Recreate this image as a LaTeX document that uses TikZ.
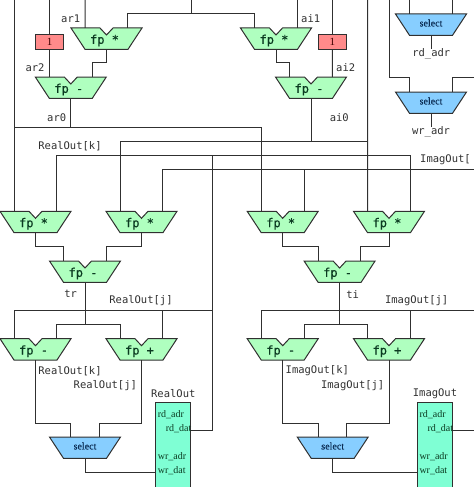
\documentclass[tikz,border=0pt]{standalone}
\usepackage{fontspec}
\setmainfont{Liberation Serif}
\newfontfamily\labelmono{DejaVu Sans Mono}
\newfontfamily\unitmono[FakeBold=0.4]{DejaVu Sans Mono}
\newfontfamily\selectserif[FakeBold=0.2]{Liberation Serif}
\usetikzlibrary{positioning, calc}
\definecolor{Wire}{HTML}{303030}
\definecolor{FpGreen}{HTML}{AFFFBF}
\definecolor{SelectBlue}{HTML}{87CEFF}
\definecolor{ConstRed}{HTML}{FF8A8A}
\definecolor{MemGreen}{HTML}{7FFFD4}
\definecolor{DarkGreen}{HTML}{0A3A20}
\definecolor{DarkBlue}{HTML}{0C2E55}
\tikzset{
  wire/.style={draw=Wire, line width=1pt},
  netlabel/.style={font=\labelmono\fontsize{10.5}{12}\selectfont, text=Wire, inner sep=0pt},
  memlabel/.style={font=\fontsize{10}{12}\selectfont, text=DarkGreen, inner sep=0pt, anchor=west},
  constbox/.style={wire, fill=ConstRed, minimum width=28.7pt, minimum height=14.8pt, inner sep=0pt,
                   font=\fontsize{11}{12}\selectfont, text=black!75!red},
  membox/.style={wire, fill=MemGreen, minimum width=35.3pt, minimum height=120pt, inner sep=0pt},
  fpunit/.pic={
    \draw[wire, fill=FpGreen] (-35.5,0) -- (-6.5,0) -- (0,7) -- (6.5,0) -- (35.5,0)
        -- (21.5,21.3) -- (-21.5,21.3) -- cycle;
    \node[inner sep=0pt, text=DarkGreen, font=\unitmono\fontsize{12}{12}\selectfont] (-t) at (-2,12.5) {#1};
    \coordinate (-l) at (-21.3,0);
    \coordinate (-r) at (21.3,0);
    \coordinate (-o) at (0,21.3);
  },
  selectunit/.pic={
    \draw[wire, fill=SelectBlue] (-35.5,0) -- (35.5,0) -- (21.5,21.3) -- (-21.5,21.3) -- cycle;
    \node[inner sep=0pt, text=DarkBlue, font=\selectserif\fontsize{10}{12}\selectfont] (-t) at (0,9) {select};
    \coordinate (-l) at (-21.3,0);
    \coordinate (-r) at (21.3,0);
    \coordinate (-a) at (-14.1,0);
    \coordinate (-b) at (14.1,0);
    \coordinate (-o) at (0,21.3);
  }
}
\begin{document}
\begin{tikzpicture}[x=1pt, y=-1pt]
\useasboundingbox (0,0) rectangle (474,487);
\clip (0,0) rectangle (474,487);

% butterfly multipliers, top
\pic (mula) at (106.5,28) {fpunit={fp *}};
\pic (mulb) at (276,28) {fpunit={fp *}};
\pic (suba) at (70.8,77) {fpunit={fp -}};
\pic (subb) at (311,77) {fpunit={fp -}};
\node[constbox] (onea) at (49.5,42.1) {1};
\node[constbox] (oneb) at (332.4,42.1) {1};

% address selects
\pic (selrd) at (431,14) {selectunit};
\pic (selwr) at (431,92) {selectunit};

% middle row
\pic (fa) at (35.5,211.3) {fpunit={fp *}};
\pic (fb) at (141.5,211.3) {fpunit={fp *}};
\pic (fc) at (282.7,211.3) {fpunit={fp *}};
\pic (fd) at (389,211.3) {fpunit={fp *}};
\pic (tr) at (85,261) {fpunit={fp -}};
\pic (ti) at (339.6,261) {fpunit={fp -}};

% bottom row
\pic (ga) at (35.5,338.7) {fpunit={fp -}};
\pic (gb) at (141.5,338.7) {fpunit={fp +}};
\pic (gc) at (282.7,338.7) {fpunit={fp -}};
\pic (gd) at (389,338.7) {fpunit={fp +}};
\pic (selre) at (85,437) {selectunit};
\pic (selim) at (332.7,437) {selectunit};

% memories
\node[membox] (memre) at (173.3,462.3) {};
\node[membox] (memim) at (435,462.3) {};
\node[memlabel] at (157.7,414.7) {rd\_adr};
\node[memlabel] at (165.7,429) {rd\_dat};
\node[memlabel] at (157.7,457) {wr\_adr};
\node[memlabel] at (157.7,471) {wr\_dat};
\node[memlabel] at (419.3,414.7) {rd\_adr};
\node[memlabel] at (427.3,429) {rd\_dat};
\node[memlabel] at (419.3,457) {wr\_adr};
\node[memlabel] at (419.3,471) {wr\_dat};

% rails and free ends
\coordinate (railtop) at (0,14);
\coordinate (railsel) at (0,77);
\coordinate (railar) at (0,127);
\coordinate (railai) at (0,141);
\coordinate (railc) at (212,155);
\coordinate (edgeim) at (474,169);
\coordinate (railm) at (0,324.5);
\coordinate (railrj) at (212,310);
\coordinate (railij) at (474,310);
\coordinate (railq) at (0,423.3);
\coordinate (wleft) at (14.2,0);
\coordinate (wa) at (49.5,0);
\coordinate (wb) at (85,0);
\coordinate (wc) at (191,0);
\coordinate (wd) at (297.3,0);
\coordinate (we) at (332.4,0);
\coordinate (wf) at (367.5,0);
\coordinate (wg) at (389,0);
\coordinate (wh) at (409.7,0);
\coordinate (wi) at (452.3,0);
\coordinate (edgesel) at (474,77);
\coordinate (rdre) at (191,430);
\coordinate (rdim) at (452.7,430);
\coordinate (edgerd) at (474,430);
\coordinate (wrre) at (155.7,472.7);
\coordinate (wrim) at (417.3,472.7);

% top
\draw[wire] (wleft) -- (fa-l);
\draw[wire] (wa) -- (onea);
\draw[wire] (onea) -- (suba-l);
\draw[wire] (wb) -- (mula-l);
\draw[wire] (wc) -- (wc |- railtop);
\draw[wire] (mula-r) |- (mulb-l |- railtop) -- (mulb-l);
\draw[wire] (wd) -- (mulb-r);
\draw[wire] (we) -- (oneb);
\draw[wire] (oneb) -- (subb-r);
\draw[wire] (mula-o) |- ($(suba-r)+(0,-14)$) -- (suba-r);
\draw[wire] (mulb-o) |- ($(subb-l)+(0,-14)$) -- (subb-l);

% selects
\draw[wire] (wh) -- (selrd-l);
\draw[wire] (wi) -- (selrd-r);
\draw[wire] (selrd-o) -- ++(0,14);
\draw[wire] (wg) |- (selwr-l |- railsel) -- (selwr-l);
\draw[wire] (edgesel) -| (selwr-r);
\draw[wire] (selwr-o) -- (selwr-o |- railar);

% rails to the middle row
\draw[wire] (suba-o) -- (suba-o |- railar);
\draw[wire] (wleft |- railar) -| (fc-l);
\draw[wire] (subb-o) -- (subb-o |- railai);
\draw[wire] (fb-l) |- (wf |- railai);
\draw[wire] (wf) -- (fd-l);
\draw[wire] (fa-r) |- (fd-r |- railc) -- (fd-r);
\draw[wire] (fb-r) |- (edgeim);
\draw[wire] (fc-r) -- (fc-r |- edgeim);
\draw[wire] (rdre) -| (railc);

% middle to tr, ti
\draw[wire] (fa-o) |- ($(tr-l)+(0,-14.3)$) -- (tr-l);
\draw[wire] (fb-o) |- ($(tr-r)+(0,-14.3)$) -- (tr-r);
\draw[wire] (fc-o) |- ($(ti-l)+(0,-14.3)$) -- (ti-l);
\draw[wire] (fd-o) |- ($(ti-r)+(0,-14.3)$) -- (ti-r);

% bottom rails
\draw[wire] (tr-o) -- (tr-o |- railm);
\draw[wire] (ga-l) |- (railrj);
\draw[wire] (gb-r) -- (gb-r |- railrj);
\draw[wire] (ga-r) |- (gb-l |- railm) -- (gb-l);
\draw[wire] (ti-o) -- (ti-o |- railm);
\draw[wire] (gc-l) |- (railij);
\draw[wire] (gd-r) -- (gd-r |- railij);
\draw[wire] (gc-r) |- (gd-l |- railm) -- (gd-l);

% into the selects and memories
\draw[wire] (ga-o) |- (selre-a |- railq) -- (selre-a);
\draw[wire] (gb-o) |- (selre-b |- railq) -- (selre-b);
\draw[wire] (gc-o) |- (selim-a |- railq) -- (selim-a);
\draw[wire] (gd-o) |- (selim-b |- railq) -- (selim-b);
\draw[wire] (selre-o) |- (wrre);
\draw[wire] (selim-o) |- (wrim);
\draw[wire] (rdim) -- (edgerd);

% net labels
\node[netlabel] at (70.7,18.3) {ar1};
\node[netlabel] at (35,67.7) {ar2};
\node[netlabel] at (56.7,117.3) {ar0};
\node[netlabel] at (70,145.7) {RealOut[k]};
\node[netlabel] at (310.7,18.3) {ai1};
\node[netlabel] at (345.7,67.7) {ai2};
\node[netlabel] at (339.3,117.3) {ai0};
\node[netlabel] at (431.3,54) {rd\_adr};
\node[netlabel] at (431,131.3) {wr\_adr};
\node[netlabel, anchor=west] at (420,160) {ImagOut[};
\node[netlabel] at (70.7,294) {tr};
\node[netlabel] at (141,300.7) {RealOut[j]};
\node[netlabel] at (352.7,294.3) {ti};
\node[netlabel] at (416.7,301) {ImagOut[j]};
\node[netlabel] at (70,371) {RealOut[k]};
\node[netlabel] at (105.3,385.7) {RealOut[j]};
\node[netlabel] at (173.3,393.3) {RealOut};
\node[netlabel] at (317.3,371) {ImagOut[k]};
\node[netlabel] at (352.7,385.7) {ImagOut[j]};
\node[netlabel] at (435,393.3) {ImagOut};
\end{tikzpicture}
\end{document}
